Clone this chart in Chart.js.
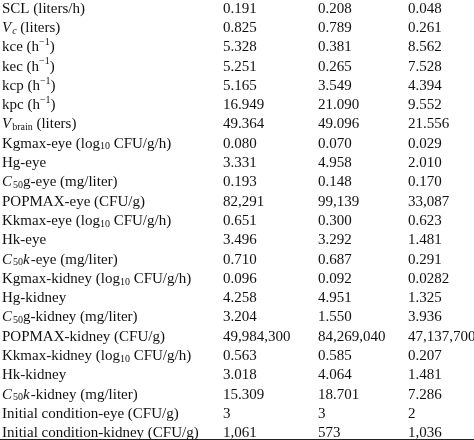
<!DOCTYPE html>
<html><head><meta charset="utf-8">
<script src="https://cdn.jsdelivr.net/npm/chart.js@4"></script>
<style>html,body{margin:0;padding:0;background:#fff}#w{width:474px;height:440px}</style>
</head><body><div id="w"><canvas id="c"></canvas></div>
<script>
const rowLabels = [
 "SCL (liters/h)", "*V*_{*c*} (liters)", "kce (h^{−1})", "kec (h^{−1})", "kcp (h^{−1})", "kpc (h^{−1})",
 "*V*_{brain} (liters)", "Kgmax-eye (log_{10} CFU/g/h)", "Hg-eye", "*C*_{50}g-eye (mg/liter)",
 "POPMAX-eye (CFU/g)", "Kkmax-eye (log_{10} CFU/g/h)", "Hk-eye", "*C*_{50}*k*-eye (mg/liter)",
 "Kgmax-kidney (log_{10} CFU/g/h)", "Hg-kidney", "*C*_{50}g-kidney (mg/liter)", "POPMAX-kidney (CFU/g)",
 "Kkmax-kidney (log_{10} CFU/g/h)", "Hk-kidney", "*C*_{50}*k*-kidney (mg/liter)",
 "Initial condition-eye (CFU/g)", "Initial condition-kidney (CFU/g)"
];
const col1 = ["0.191","0.825","5.328","5.251","5.165","16.949","49.364","0.080","3.331","0.193","82,291","0.651","3.496","0.710","0.096","4.258","3.204","49,984,300","0.563","3.018","15.309","3","1,061"];
const col2 = ["0.208","0.789","0.381","0.265","3.549","21.090","49.096","0.070","4.958","0.148","99,139","0.300","3.292","0.687","0.092","4.951","1.550","84,269,040","0.585","4.064","18.701","3","573"];
const col3 = ["0.048","0.261","8.562","7.528","4.394","9.552","21.556","0.029","2.010","0.170","33,087","0.623","1.481","0.291","0.0282","1.325","3.936","47,137,700","0.207","1.481","7.286","2","1,036"];
const colX = [2, 223, 318, 408];
const FONT = '"Liberation Serif", "DejaVu Serif", serif';
const FS = 15;

function parse(s){
  const out=[]; let i=0, italic=false;
  while(i<s.length){
    const ch=s[i];
    if(ch==='*'){italic=!italic;i++;continue;}
    if((ch==='_'||ch==='^')&&s[i+1]==='{'){
      const end=s.indexOf('}',i);
      let inner=s.slice(i+2,end); let it=italic;
      const parts=[]; let buf='';
      for(const c of inner){ if(c==='*'){ if(buf)parts.push({t:buf,it}); buf=''; it=!it;} else buf+=c; }
      if(buf)parts.push({t:buf,it});
      parts.forEach(p=>out.push({t:p.t,it:p.it,mode:ch}));
      i=end+1;continue;
    }
    let last=out[out.length-1];
    if(last&&last.mode==='n'&&last.it===italic) last.t+=ch; else out.push({t:ch,it:italic,mode:'n'});
    i++;
  }
  return out;
}
function drawRich(ctx,s,x,y){
  for(const p of parse(s)){
    const size=p.mode==='n'?FS:Math.round(FS*0.68);
    ctx.font=(p.it?'italic ':'')+size+'px '+FONT;
    let dy=0; if(p.mode==='_')dy=3; if(p.mode==='^')dy=-5;
    ctx.fillText(p.t,x,y+dy);
    x+=ctx.measureText(p.t).width+(p.it&&p.mode==='n'?1:0);
  }
}
const tablePlugin={id:'table',afterDraw(chart){
  const ctx=chart.ctx, ys=chart.scales.y;
  ctx.save(); ctx.fillStyle='#111'; ctx.textBaseline='middle';
  rowLabels.forEach((lab,i)=>{
    const y=ys.getPixelForValue(i)+1;
    drawRich(ctx,lab,colX[0],y);
    ctx.font=FS+'px '+FONT;
    ctx.fillText(col1[i],colX[1],y);
    ctx.fillText(col2[i],colX[2],y);
    ctx.fillText(col3[i],colX[3],y);
  });
  ctx.strokeStyle='#222'; ctx.lineWidth=1;
  ctx.beginPath(); ctx.moveTo(0,439.5); ctx.lineTo(474,439.5); ctx.stroke();
  ctx.restore();
}};
new Chart(document.getElementById('c'),{
  type:'scatter',
  data:{datasets:[{data:rowLabels.map((_,i)=>({x:0,y:i})),pointRadius:0}]},
  options:{responsive:true,maintainAspectRatio:false,animation:false,
    layout:{padding:0},
    plugins:{legend:{display:false},tooltip:{enabled:false}},
    scales:{x:{display:false,min:0,max:1},y:{display:false,reverse:true,min:-0.4,max:22.4}}},
  plugins:[tablePlugin]
});
</script></body></html>
